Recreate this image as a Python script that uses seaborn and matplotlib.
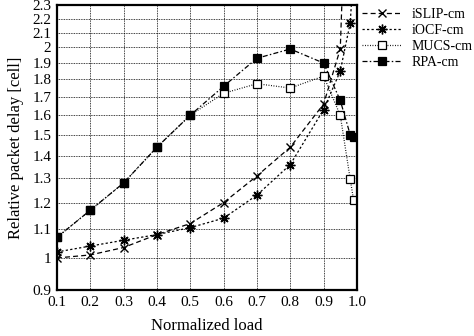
import matplotlib
matplotlib.use("Agg")
import matplotlib.pyplot as plt
import matplotlib.ticker as mticker
import numpy as np
import pandas as pd
import seaborn as sns

# ---- data ----
islip_x = [0.1, 0.2, 0.3, 0.4, 0.5, 0.6, 0.7, 0.8, 0.9, 0.95, 0.98]
islip_y = [1.00, 1.01, 1.035, 1.08, 1.12, 1.20, 1.31, 1.44, 1.66, 1.99, 5.0]
iocf_x = [0.1, 0.2, 0.3, 0.4, 0.5, 0.6, 0.7, 0.8, 0.9, 0.95, 0.98, 0.99]
iocf_y = [1.02, 1.04, 1.06, 1.08, 1.105, 1.14, 1.23, 1.36, 1.63, 1.85, 2.17, 2.6]
mucs_x = [0.1, 0.2, 0.3, 0.4, 0.5, 0.6, 0.7, 0.8, 0.9, 0.95, 0.98, 0.99]
mucs_y = [1.07, 1.17, 1.28, 1.44, 1.60, 1.72, 1.775, 1.75, 1.82, 1.60, 1.295, 1.21]
rpa_x = [0.1, 0.2, 0.3, 0.4, 0.5, 0.6, 0.7, 0.8, 0.9, 0.95, 0.98, 0.99]
rpa_y = [1.07, 1.17, 1.28, 1.44, 1.60, 1.76, 1.93, 1.99, 1.90, 1.68, 1.50, 1.49]

x_ticks = [0.1, 0.2, 0.3, 0.4, 0.5, 0.6, 0.7, 0.8, 0.9, 1.0]
x_labels = ["0.1", "0.2", "0.3", "0.4", "0.5", "0.6", "0.7", "0.8", "0.9", "1.0"]
y_ticks = [0.9, 1.0, 1.1, 1.2, 1.3, 1.4, 1.5, 1.6, 1.7, 1.8, 1.9, 2.0, 2.1, 2.2, 2.3]
y_labels = ["0.9", "1", "1.1", "1.2", "1.3", "1.4", "1.5", "1.6", "1.7", "1.8",
            "1.9", "2", "2.1", "2.2", "2.3"]

sns.set_theme(style="white")
plt.rcParams['font.family'] = ['Liberation Serif', 'DejaVu Serif']

fig = plt.figure(figsize=(4.74, 3.36), dpi=100)
ax = fig.add_axes([0.120, 0.137, 0.633, 0.848])

series = [
    ("iSLIP-cm", islip_x, islip_y, dict(linestyle=(0, (4, 2.5)), marker="x", markersize=6,
                                          markerfacecolor="none", markeredgewidth=1.0)),
    ("iOCF-cm", iocf_x, iocf_y, dict(linestyle=(0, (1.8, 1.8)), marker=(8, 2, 0), markersize=7,
                                        markeredgewidth=1.0)),
    ("MUCS-cm", mucs_x, mucs_y, dict(linestyle=(0, (0.7, 1.3)), marker="s", markersize=6,
                                        markerfacecolor="white", markeredgewidth=0.9)),
    ("RPA-cm", rpa_x, rpa_y, dict(linestyle=(0, (4, 1.8, 1.2, 1.8)), marker="s", markersize=6,
                                     markerfacecolor="black", markeredgewidth=0.9)),
]

for name, xs, ys, kw in series:
    df = pd.DataFrame({"load": xs, "delay": ys})
    sns.lineplot(data=df, x="load", y="delay", ax=ax, color="black", linewidth=0.9,
                 label=name, markeredgecolor="black", clip_on=True, **kw)

ax.set_yscale("log")
ax.set_xlim(0.1, 1.0)
ax.set_ylim(0.9, 2.3)
ax.yaxis.set_major_locator(mticker.FixedLocator(y_ticks))
ax.yaxis.set_major_formatter(mticker.FixedFormatter(y_labels))
ax.yaxis.set_minor_locator(mticker.NullLocator())
ax.set_xticks(x_ticks)
ax.set_xticklabels(x_labels)

ax.grid(True, which="major", color="black", linestyle=(0, (1, 1)), linewidth=0.6)
for sp in ax.spines.values():
    sp.set_color("black")
    sp.set_linewidth(1.6)

ax.tick_params(axis="both", labelsize=11, colors="black", length=0, pad=4)
ax.set_xlabel("Normalized load", fontsize=12, color="black", labelpad=7)
ax.set_ylabel("Relative packet delay [cell]", fontsize=12, color="black", labelpad=6)

handles, labels = ax.get_legend_handles_labels()
ax.get_legend().remove()
leg = fig.legend(handles=handles, labels=labels,
                 loc="upper left", bbox_to_anchor=(362 / 474, 1 - 8 / 336),
                 frameon=False, fontsize=10,
                 handlelength=2.9, handletextpad=0.7, labelspacing=0.22,
                 borderaxespad=0.0, borderpad=0.0)
for t in leg.get_texts():
    t.set_color("black")

fig.savefig("out.png", dpi=100)
